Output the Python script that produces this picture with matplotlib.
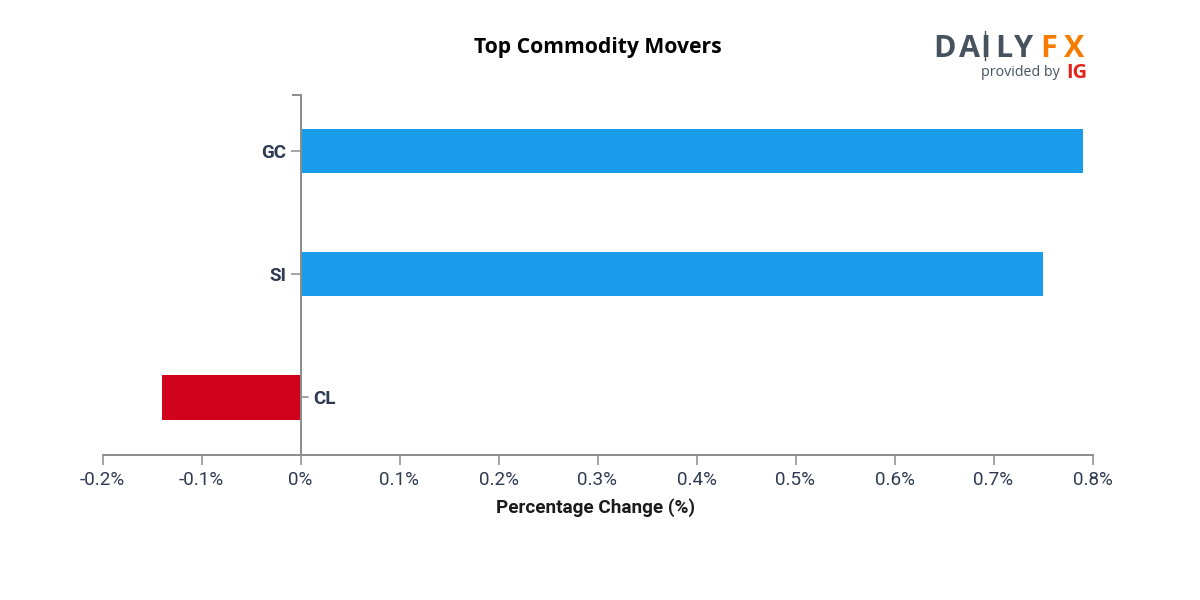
import matplotlib
matplotlib.use("Agg")
import matplotlib.pyplot as plt
from matplotlib.ticker import FixedLocator, FixedFormatter

categories = ["CL", "SI", "GC"]
values = [-0.14, 0.75, 0.79]
x_ticks = [-0.2, -0.1, 0, 0.1, 0.2, 0.3, 0.4, 0.5, 0.6, 0.7, 0.8]
x_labels = ["-0.2%", "-0.1%", "0%", "0.1%", "0.2%", "0.3%", "0.4%", "0.5%", "0.6%", "0.7%", "0.8%"]
title = "Top Commodity Movers"
x_title = "Percentage Change (%)"
logo_letters = ["D", "A", "I", "L", "Y", "F", "X"]
BLUE, RED, INK, AXIS = "#199cea", "#d0021b", "#2f3b52", "#8c8c8c"
FONT = "Roboto"

W, H = 1200, 600
fig = plt.figure(figsize=(12, 6), dpi=100, facecolor="white")
ax = fig.add_axes([102.5 / W, 1 - 455 / H, 990 / W, 360 / H])
ax.set_xlim(-0.2, 0.8)
ax.set_ylim(-0.468, 2.454)
colors = [RED if v < 0 else BLUE for v in values]
ax.barh(range(len(values)), values, height=0.361, color=colors, zorder=2)

for s in ("top", "right"):
    ax.spines[s].set_visible(False)
ax.spines["left"].set_position(("data", 0))
for s in ("left", "bottom"):
    ax.spines[s].set_color(AXIS)
    ax.spines[s].set_linewidth(1.4)
    ax.spines[s].set_zorder(3)

ax.xaxis.set_major_locator(FixedLocator(x_ticks))
ax.xaxis.set_major_formatter(FixedFormatter(x_labels))
ax.tick_params(axis="x", length=7.5, width=1.1, color=AXIS, pad=4, labelsize=13.6, labelcolor=INK)
for t in ax.get_xticklabels():
    t.set_fontfamily(FONT)

ax.set_yticks(range(len(categories)))
ax.set_yticklabels([])
ax.tick_params(axis="y", length=7.5, width=1.1, color=AXIS, direction="out")
ax.add_line(plt.Line2D([-0.0075, 0], [2.454, 2.454], color=AXIS, lw=1.4, clip_on=False, zorder=3))

for i, (c, v) in enumerate(zip(categories, values)):
    if v >= 0:
        ax.annotate(c, (0, i), xytext=(-10.5, 0), textcoords="offset points", ha="right", va="center_baseline",
                    fontsize=13.5, fontweight="bold", fontfamily=FONT, color=INK)
    else:
        ax.annotate(c, (0, i), xytext=(9.5, 0), textcoords="offset points", ha="left", va="center_baseline",
                    fontsize=13.5, fontweight="bold", fontfamily=FONT, color=INK)
        ax.add_line(plt.Line2D([0, 0.0075], [i, i], color=AXIS, lw=1.1, clip_on=False, zorder=3))

fig.text(596 / W, 1 - 508 / H, x_title, ha="center", va="center", fontsize=13.6, fontweight="bold",
         fontfamily=FONT, color="#1b1b1b")
fig.text(597.5 / W, 1 - 47 / H, title, ha="center", va="center", fontsize=15.2, fontweight="bold",
         fontfamily="Open Sans", color="black")

# Logo
logo_x = [944, 969.5, 985, 1003.5, 1024, 1049, 1074]
for ch, x in zip(logo_letters, logo_x):
    fig.text(x / W, 1 - 57 / H, ch, ha="center", va="baseline", fontsize=22, fontweight="bold", fontfamily="Open Sans",
             color="#f57c00" if ch in "FX" else "#46535f")
fig.add_artist(plt.Line2D([985 / W, 985 / W], [1 - 31 / H, 1 - 60 / H], color="#46535f", lw=1.0))
fig.text(1060 / W, 1 - 72.5 / H, "provided by", ha="right", va="center", fontsize=10.3, fontfamily="Open Sans", color="#46535f")
fig.text(1077 / W, 1 - 73 / H, "IG", ha="center", va="center", fontsize=14.5, fontweight="bold", fontfamily="Open Sans", color="#e2231a")

fig.savefig("out.png", dpi=100, facecolor="white")
